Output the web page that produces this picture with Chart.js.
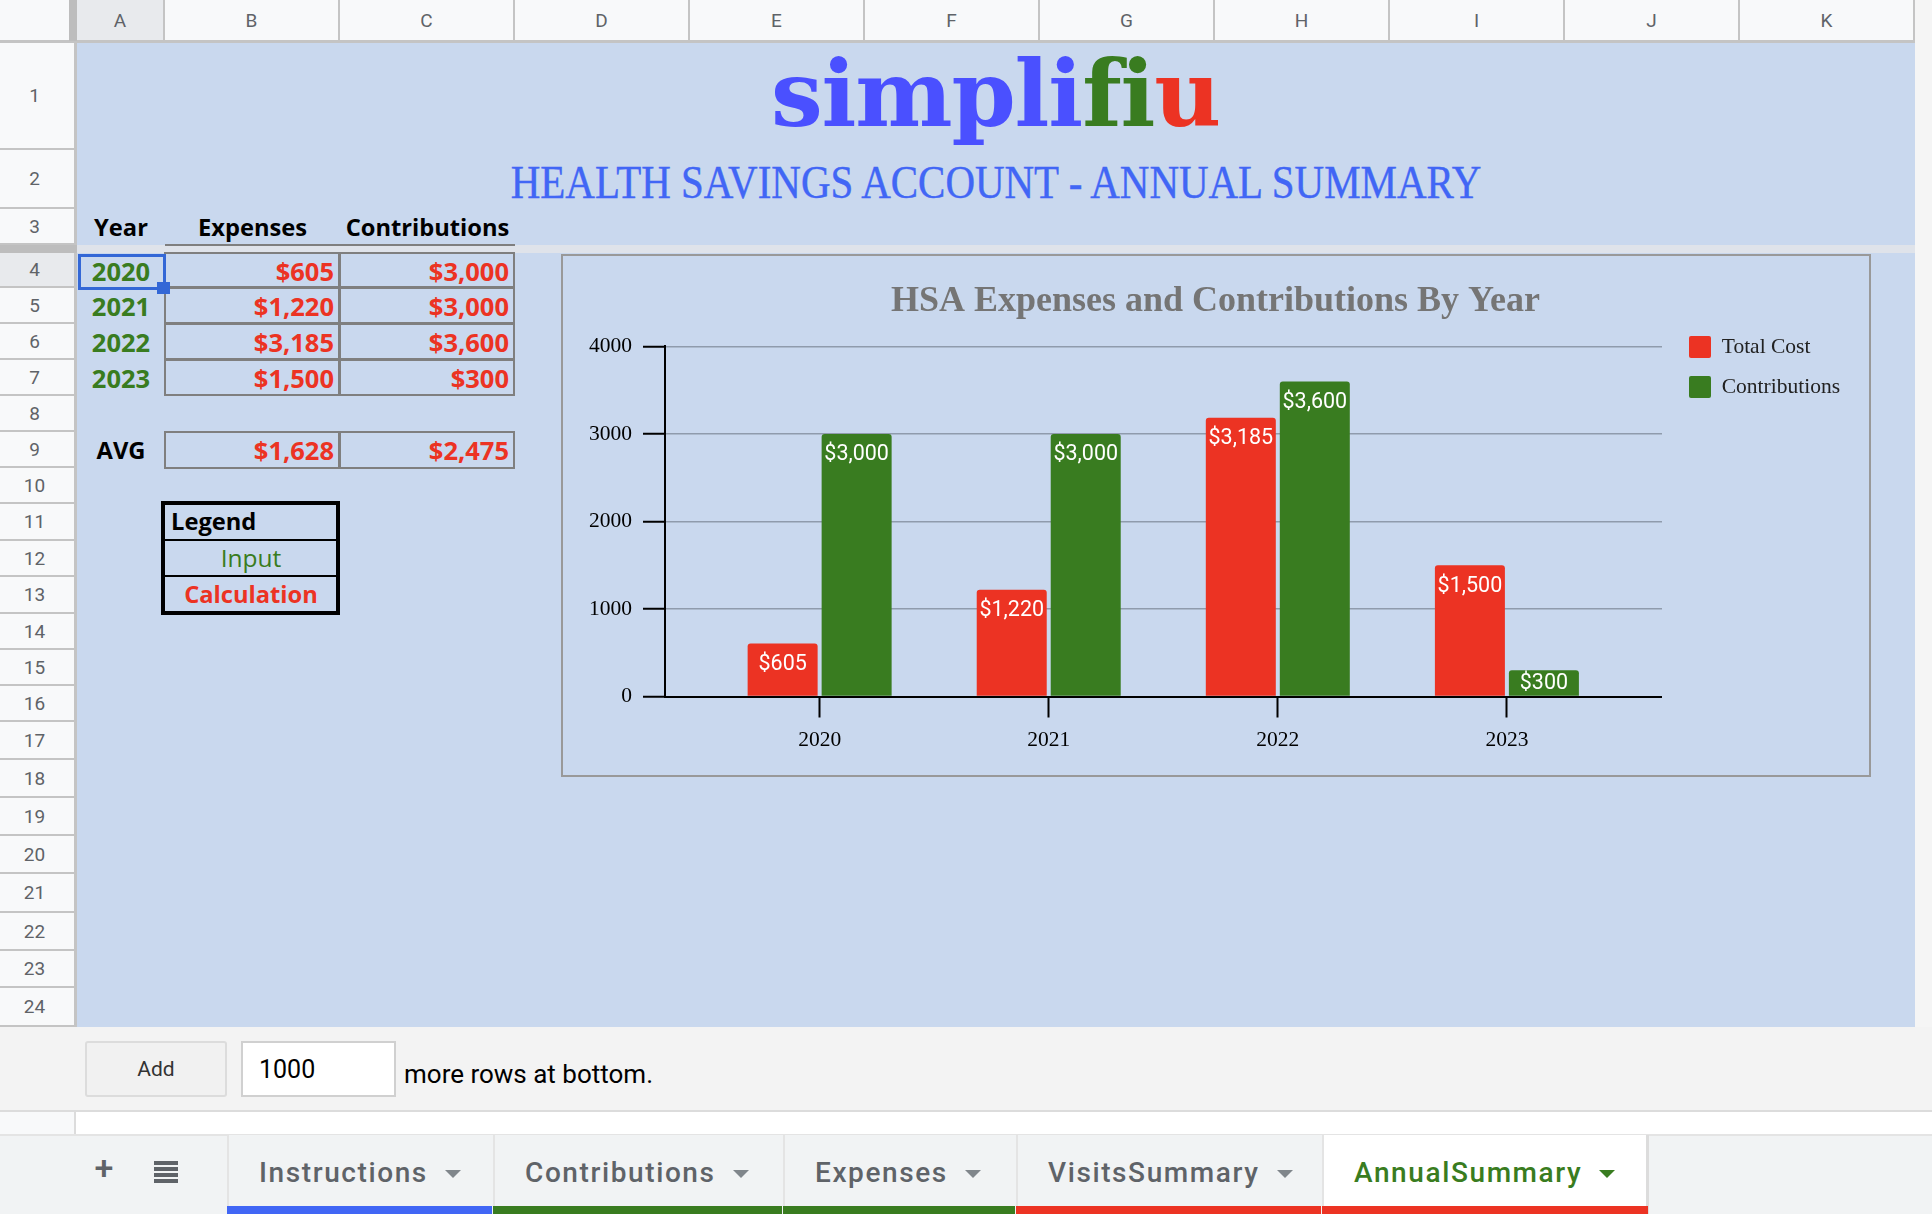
<!DOCTYPE html>
<html>
<head>
<meta charset="utf-8">
<title>HSA Annual Summary</title>
<script src="https://cdn.jsdelivr.net/npm/chart.js@4/dist/chart.umd.min.js"></script>
<style>
  html, body { margin: 0; padding: 0; background: #f3f3f3; }
  body { width: 1932px; height: 1214px; overflow: hidden; position: relative; font-family: Roboto, sans-serif; }
  .abs { position: absolute; box-sizing: border-box; }
  .cell { font: bold 25.5px "Open Sans", sans-serif; display: flex; align-items: center; white-space: nowrap; }
  .head { font-size: 23.7px; }
  .tab { font: 500 28px Roboto, sans-serif; letter-spacing: 1.6px; color: #5f6368; white-space: nowrap; line-height: 34px; }
</style>
</head>
<body>
<div id="sheet"></div>
<div class="abs" id="frame" style="left:561px;top:254px;width:1310px;height:523px;border:2.5px solid #999;padding:.5px">
  <canvas id="chart" width="1303" height="517" style="display:block"></canvas>
</div>
<script>
const years = [2020, 2021, 2022, 2023];
const expenses = [605, 1220, 3185, 1500];
const contributions = [3000, 3000, 3600, 300];
const avgExpenses = 1628;
const avgContributions = 2475;
const yTicks = [0, 1000, 2000, 3000, 4000];
const xMin = 2019.325;
const xMax = 2023.677;

const columns = ['A', 'B', 'C', 'D', 'E', 'F', 'G', 'H', 'I', 'J', 'K'];
const colEdges = [77, 165, 340, 515, 690, 865, 1040, 1215, 1390, 1565, 1740, 1915];
const rowEdges = [43, 150, 209, 253, 288, 324, 360, 396, 432, 468, 504, 541, 577, 614, 650, 686, 722, 760, 798, 836, 874, 913, 951, 988, 1027];

const RED = '#ec3323';
const GREEN = '#397c20';
const money = v => '$' + v.toLocaleString('en-US');

const sheet = document.getElementById('sheet');
const box = (x, y, w, h, css = '', text = '', cls = 'abs') => {
  const d = document.createElement('div');
  d.className = cls;
  d.style.cssText = `left:${x}px;top:${y}px;width:${w}px;height:${h}px;${css}`;
  d.textContent = text;
  sheet.appendChild(d);
  return d;
};
const cell = (x, y, w, h, text, color, align, cls = '') =>
  box(x, y, w, h, `color:${color};justify-content:${align};padding:0 5px`, text, 'abs cell ' + cls);

// sfondo, intestazioni
box(77, 43, 1838, 984, 'background:#c9d8ee');
box(1915, 0, 17, 1027, 'background:#f5f5f5');
box(0, 0, 1915, 43, 'background:#f8f9fa;border-bottom:3px solid #c4c4c4');
box(0, 43, 77, 984, 'background:#f8f9fa;border-right:3px solid #c4c4c4');
box(77, 0, 88, 40, 'background:#e8eaed');
box(69, 0, 8, 41, 'background:#bdbdbd');
columns.forEach((c, i) => {
  box(colEdges[i], 0, colEdges[i + 1] - colEdges[i], 41,
    'font:19px Roboto;color:#5f6368;display:flex;align-items:center;justify-content:center;border-right:2px solid #c4c4c4', c);
});
rowEdges.slice(0, -1).forEach((y, i) => {
  const h = i === 2 ? 36 : rowEdges[i + 1] - y;
  box(0, y, 74, h, `font:19px Roboto;color:#5f6368;display:flex;align-items:center;justify-content:center;padding-right:5px;border-bottom:2px solid #c4c4c4;${i === 3 ? 'background:#e8eaed;' : ''}`, String(i + 1));
});
box(0, 245, 77, 8, 'background:#bdbdbd');
box(77, 245, 1838, 8, 'background:#dfe3ea');

// logo e titolo
const logo = box(771, 34, 600, 120, 'font:bold 92px "DejaVu Serif",serif;letter-spacing:-1.2px;white-space:nowrap;line-height:120px;color:#4a50ff');
logo.innerHTML = 'simpli<span style="color:#397c20">fi</span><span style="color:#ec3323">u</span>';
box(396, 155, 1200, 56, 'font:45.5px "Liberation Serif",serif;-webkit-text-stroke:.4px #4166f5;color:#4166f5;text-align:center;white-space:nowrap;line-height:56px;transform:scaleX(.9)', 'HEALTH SAVINGS ACCOUNT - ANNUAL SUMMARY');

// tabella
cell(77, 209, 88, 36, 'Year', '#000', 'center', 'head');
cell(165, 209, 175, 36, 'Expenses', '#000', 'center', 'head');
cell(340, 209, 175, 36, 'Contributions', '#000', 'center', 'head');
box(165, 244, 350, 2, 'background:#7f7f7f');
const tableLine = 'border:solid #7f7f7f;border-width:2px;';
years.forEach((y, i) => {
  const top = rowEdges[3 + i], h = rowEdges[4 + i] - top;
  cell(77, top, 88, h, String(y), GREEN, 'center');
  box(164, top - 1, 176, h + 1, tableLine);
  box(339, top - 1, 176, h + 1, tableLine);
  cell(164, top, 175, h, money(expenses[i]), RED, 'flex-end');
  cell(339, top, 175, h, money(contributions[i]), RED, 'flex-end');
});
cell(77, 432, 88, 36, 'AVG', '#000', 'center', 'head');
box(164, 431, 176, 38, tableLine);
box(339, 431, 176, 38, tableLine);
cell(164, 432, 175, 36, money(avgExpenses), RED, 'flex-end');
cell(339, 432, 175, 36, money(avgContributions), RED, 'flex-end');

// cella selezionata
box(78, 254, 88, 36, 'border:3px solid #3367d6');
box(157, 282, 13, 12, 'background:#3367d6');

// riquadro legenda del foglio
box(161, 501, 179, 114, 'border:4px solid #000');
box(164, 539, 173, 2, 'background:#000');
box(164, 575, 173, 2, 'background:#000');
cell(166, 503, 170, 36, 'Legend', '#000', 'flex-start', 'head');
box(166, 540, 170, 36, `font:24.5px "Open Sans",sans-serif;color:${GREEN};text-align:center;line-height:36px`, 'Input');
cell(166, 576, 170, 36, 'Calculation', RED, 'center', 'head');

// barra in basso
box(85, 1041, 142, 56, 'background:#f1f1f1;border:2px solid #dcdcdc;border-radius:3px;font:21px Roboto;color:#333;display:flex;align-items:center;justify-content:center', 'Add');
box(241, 1041, 155, 56, 'background:#fff;border:2px solid #d0d0d0;font:25px Roboto;color:#000;display:flex;align-items:center;padding-left:16px', '1000');
box(404, 1054, 300, 40, 'font:26px Roboto;color:#000;line-height:40px;white-space:nowrap', 'more rows at bottom.');
box(0, 1110, 1932, 2, 'background:#dcdcdc');
box(0, 1112, 1932, 23, 'background:#fff');
box(0, 1112, 76, 23, 'background:#f8f9fa;border-right:2px solid #dcdcdc');
box(0, 1134, 1932, 80, 'background:#f1f3f4;border-top:2px solid #e4e4e4');
box(94, 1147, 20, 40, 'font:500 34px Roboto;color:#5f6368;line-height:40px;text-align:center', '+');
[1161, 1167, 1173, 1179].forEach(y => box(154, y, 24, 4, 'background:#5f6368'));

const tabNames = ['Instructions', 'Contributions', 'Expenses', 'VisitsSummary', 'AnnualSummary'];
const tabEdges = [227, 493, 783, 1016, 1322, 1649];
const tabColors = ['#4166f5', GREEN, GREEN, RED, RED];
tabNames.forEach((name, i) => {
  const x = tabEdges[i], w = tabEdges[i + 1] - x, active = i === 4;
  box(x, 1135, w, 79, `background:${active ? '#fff' : '#f1f3f4'};border-left:2px solid #e4e4e4;${active ? 'border-right:3px solid #dcdcdc;' : ''}`);
  const t = box(x + 32, 1156, w - 40, 34, `color:${active ? GREEN : '#5f6368'}`, name, 'abs tab');
  const r = document.createRange();
  r.selectNodeContents(t);
  const tw = r.getBoundingClientRect().width;
  box(x + 32 + tw + 17, 1170, 0, 0, `border-style:solid;border-width:8px 8px 0 8px;border-color:${active ? GREEN : '#80868b'} transparent transparent transparent`);
  box(x, 1206, w - 1, 8, `background:${tabColors[i]}`);
});

// etichette dentro le barre (non c'e' datalabels in locale)
const barLabels = {
  id: 'barLabels',
  afterDatasetsDraw(chart) {
    const { ctx } = chart;
    ctx.save();
    ctx.font = '21.5px Roboto';
    ctx.fillStyle = '#fff';
    ctx.textAlign = 'center';
    ctx.textBaseline = 'middle';
    chart.data.datasets.forEach((ds, di) => {
      chart.getDatasetMeta(di).data.forEach((bar, i) => {
        ctx.fillText(money(ds.data[i]), bar.x, bar.y + Math.min(21, (bar.base - bar.y) / 2 + 1));
      });
    });
    ctx.restore();
  }
};

// legenda in alto a destra, sopra la quota del grafico; titolo centrato su tutto il riquadro
const moveLegend = {
  id: 'moveLegend',
  afterLayout(chart) {
    const l = chart.legend;
    const dx = 1107 - l.left;
    l.left += dx;
    l.right += dx;
    l.top = 61;
    l.adjustHitBoxes();
    chart.titleBlock.right += 26;
  }
};

new Chart(document.getElementById('chart'), {
  type: 'bar',
  plugins: [barLabels, moveLegend],
  data: {
    labels: years,
    datasets: [
      { label: 'Total Cost', data: expenses, backgroundColor: RED, borderRadius: { topLeft: 3, topRight: 3 }, borderSkipped: false },
      { label: 'Contributions', data: contributions, backgroundColor: GREEN, borderRadius: { topLeft: 3, topRight: 3 }, borderSkipped: false }
    ]
  },
  options: {
    responsive: false,
    animation: false,
    devicePixelRatio: 1,
    categoryPercentage: 0.646,
    barPercentage: 0.946,
    layout: { padding: { right: 26 } },
    plugins: {
      tooltip: { enabled: false },
      title: {
        display: true,
        text: 'HSA Expenses and Contributions By Year',
        color: '#757575',
        font: { family: '"Liberation Serif", serif', size: 36, weight: 'bold' },
        padding: { top: 23.5, bottom: 22.7 }
      },
      legend: {
        position: 'right',
        align: 'start',
        fullSize: false,
        labels: {
          boxWidth: 22,
          boxHeight: 22,
          padding: 18,
          color: '#222',
          useBorderRadius: true,
          borderRadius: 2,
          font: { family: '"Liberation Serif", serif', size: 21.5 }
        }
      }
    },
    scales: {
      x: {
        type: 'linear',
        offset: false,
        min: xMin,
        max: xMax,
        afterBuildTicks: s => { s.ticks = years.map(value => ({ value })); },
        afterFit: s => { s.height = 77.5; },
        grid: { offset: false, drawOnChartArea: false, tickLength: 21, tickColor: '#000', tickWidth: 2 },
        border: { color: '#000', width: 2, z: 1 },
        ticks: {
          callback: v => String(v),
          color: '#000',
          padding: 10,
          maxRotation: 0,
          autoSkip: false,
          font: { family: '"Liberation Serif", serif', size: 21.5 }
        }
      },
      y: {
        min: 0,
        max: 4000,
        afterBuildTicks: s => { s.ticks = yTicks.map(value => ({ value })); },
        afterFit: s => { s.width = 101; },
        grid: { color: '#8f9bac', lineWidth: 1.5, tickLength: 22, tickColor: '#000', tickWidth: 2 },
        border: { color: '#000', width: 2 },
        ticks: {
          color: '#000',
          padding: 11,
          callback: v => String(v),
          font: { family: '"Liberation Serif", serif', size: 21.5 }
        }
      }
    }
  }
});
</script>
</body>
</html>
